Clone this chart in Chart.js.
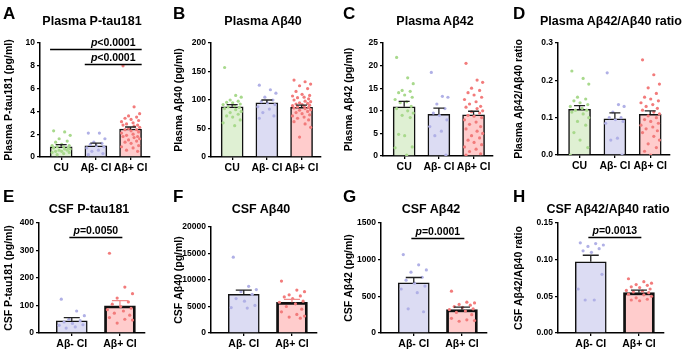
<!DOCTYPE html>
<html>
<head>
<meta charset="utf-8">
<script src="https://cdn.jsdelivr.net/npm/chart.js@4.4.0/dist/chart.umd.min.js"></script>
<style>
  body { margin: 0; background: #fff; width: 685px; height: 353px; position: relative; overflow: hidden;
         font-family: "Liberation Sans", Arial, sans-serif; color: #000; }
  canvas { position: absolute; }
  .letter { position: absolute; font-weight: bold; font-size: 17px; line-height: 17px; }
  .title { position: absolute; font-weight: bold; font-size: 12.5px; line-height: 14px; white-space: nowrap; transform: translateX(-50%); }
</style>
</head>
<body>
<script>
// groupes
const groups3 = ['CU', 'Aβ- CI', 'Aβ+ CI'];
const groups2 = ['Aβ- CI', 'Aβ+ CI'];

// A - Plasma P-tau181
const ptauCU = [2.3, 2.2, 1.9, 1.6, 1.4, 1.3, 1.1, 1.0, 1.0, 0.9, 0.9, 0.8, 0.8, 0.7, 0.7, 0.6, 0.6, 0.5, 0.5, 0.4, 0.4, 0.3, 0.2];
const ptauNeg = [2.1, 2.1, 1.6, 1.3, 1.2, 1.1, 1.0, 0.9, 0.8, 0.6, 0.5, 0.3, 0.2];
const ptauPos = [8.0, 4.4, 3.8, 3.6, 3.5, 3.4, 3.3, 3.2, 3.1, 3.0, 2.9, 2.8, 2.8, 2.7, 2.6, 2.5, 2.4, 2.4, 2.3, 2.2, 2.1, 2.0, 1.9, 1.8, 1.8, 1.7, 1.6, 1.5, 1.4, 1.3, 1.2, 1.0, 0.9, 0.8, 0.6, 0.5];
const ptauMeans = [0.9, 0.99, 2.46];
const ptauSems = [0.18, 0.22, 0.17];
const ptauTicks = [0, 2, 4, 6, 8, 10];

// B - Plasma Abeta40
const ab40CU = [157, 108, 105, 100, 98, 96, 95, 93, 92, 90, 88, 87, 85, 83, 80, 78, 75, 72, 70, 65, 60, 55];
const ab40Neg = [126, 118, 112, 105, 100, 97, 95, 92, 88, 84, 78, 72, 68];
const ab40Pos = [135, 132, 128, 125, 120, 115, 110, 108, 107, 105, 104, 102, 100, 98, 97, 95, 94, 93, 92, 91, 90, 89, 88, 87, 86, 85, 83, 82, 80, 78, 76, 74, 72, 70, 68, 65, 62, 58, 52, 35];
const ab40Means = [88, 95, 87];
const ab40Sems = [4, 5, 4];
const ab40Ticks = [0, 50, 100, 150, 200];

// C - Plasma Abeta42
const ab42CU = [21.8, 17.3, 16.0, 14.5, 14.3, 14.0, 13.5, 13.0, 12.5, 12.0, 11.8, 11.0, 10.5, 10.0, 9.5, 9.0, 8.5, 4.8, 4.5, 2.0, 1.8, 0.2];
const ab42Neg = [18.5, 13.2, 13.0, 11.5, 10.5, 9.5, 9.0, 8.0, 6.5, 5.5, 4.5, 0.2];
const ab42Pos = [20.5, 16.8, 16.3, 15.0, 14.5, 14.0, 13.5, 13.0, 12.5, 12.0, 11.5, 11.0, 10.8, 10.5, 10.0, 9.8, 9.5, 9.0, 8.8, 8.5, 8.0, 7.5, 7.0, 6.5, 6.0, 5.5, 5.0, 4.5, 4.0, 3.5, 3.0, 2.5, 2.0, 1.5, 1.0, 0.5, 0.2];
const ab42Means = [10.9, 9.2, 9.1];
const ab42Sems = [1.2, 1.4, 0.8];
const ab42Ticks = [0, 5, 10, 15, 20, 25];

// D - Plasma ratio
const ratioCU = [0.225, 0.205, 0.19, 0.155, 0.15, 0.145, 0.14, 0.135, 0.13, 0.125, 0.12, 0.12, 0.115, 0.11, 0.10, 0.09, 0.08, 0.06, 0.04, 0.02, 0.0];
const ratioNeg = [0.22, 0.135, 0.13, 0.115, 0.10, 0.10, 0.095, 0.09, 0.085, 0.045, 0.04, 0.0];
const ratioPos = [0.255, 0.215, 0.19, 0.18, 0.165, 0.155, 0.15, 0.145, 0.14, 0.135, 0.13, 0.125, 0.12, 0.115, 0.11, 0.105, 0.10, 0.095, 0.09, 0.085, 0.08, 0.075, 0.07, 0.065, 0.06, 0.05, 0.04, 0.03, 0.02, 0.01, 0.0];
const ratioMeans = [0.122, 0.097, 0.109];
const ratioSems = [0.01, 0.016, 0.009];
const ratioTicks = [0, 0.1, 0.2, 0.3];

// E - CSF P-tau181
const csfPtauNeg = [123, 80, 63, 50, 45, 40, 35, 30, 28, 22, 18];
const csfPtauPos = [290, 167, 143, 127, 113, 105, 96, 90, 85, 80, 72, 65, 56, 50, 47, 36];
const csfPtauMeans = [44, 99];
const csfPtauSems = [12, 19];
const csfPtauTicks = [0, 100, 200, 300, 400];

// F - CSF Abeta40
const csf40Neg = [14300, 8800, 8200, 7800, 7300, 6500, 6000, 5200, 4800, 4700];
const csf40Pos = [9800, 8100, 7800, 7200, 7000, 6800, 6500, 6000, 5800, 5500, 5000, 4500, 4000, 3500, 3200, 3000, 2800];
const csf40Means = [7300, 5800];
const csf40Sems = [800, 550];
const csf40Ticks = [0, 5000, 10000, 15000, 20000];

// G - CSF Abeta42
const csf42Neg = [1070, 930, 860, 830, 760, 720, 680, 640, 600, 550, 330, 290];
const csf42Pos = [570, 420, 410, 390, 380, 360, 350, 330, 320, 300, 280, 250, 200, 180, 170, 160];
const csf42Means = [685, 318];
const csf42Sems = [72, 35];
const csf42Ticks = [0, 500, 1000, 1500];

// H - CSF ratio
const csfRatioNeg = [0.123, 0.122, 0.12, 0.118, 0.115, 0.112, 0.11, 0.08, 0.06, 0.045, 0.045];
const csfRatioPos = [0.074, 0.07, 0.068, 0.066, 0.065, 0.063, 0.062, 0.06, 0.058, 0.057, 0.056, 0.055, 0.053, 0.052, 0.05, 0.048, 0.046, 0.045, 0.044];
const csfRatioMeans = [0.097, 0.055];
const csfRatioSems = [0.009, 0.0035];
const csfRatioTicks = [0, 0.05, 0.1, 0.15];

// significance
const ptauBrackets = [
  { from: -0.32, to: 2.32, y: 9.45, label: '<0.0001', at: 1.5 },
  { from: 0.68, to: 2.32, y: 8.2, label: '<0.0001', at: 1.5 }
];
const csfPtauBrackets = [{ from: -0.05, to: 1.05, y: 350, label: '=0.0050', at: 0.5 }];
const csf42Brackets = [{ from: -0.05, to: 1.05, y: 1300, label: '=0.0001', at: 0.5 }];
const csfRatioBrackets = [{ from: -0.05, to: 1.05, y: 0.131, label: '=0.0013', at: 0.5 }];

const FONT = '"Liberation Sans", Arial, sans-serif';
Chart.defaults.font.family = FONT;
Chart.defaults.color = '#000';

const fills = { 'CU': '#dff0d3', 'Aβ- CI': '#dcdcf3', 'Aβ+ CI': '#ffcccc' };
const dots = { 'CU': '#a8d98c', 'Aβ- CI': '#b0b0e6', 'Aβ+ CI': '#f27b7b' };

// reglages par rangee : limites x, largeur des barres, demi-largeur du chapeau
const row1 = { min: -0.61, max: 2.56, bar: 22, cap: 5.5 };
const row2 = { min: -0.68, max: 1.52, bar: 31, cap: 8 };

const panels = [
  { letter: 'A', title: 'Plasma P-tau181', yTitle: 'Plasma P-tau181 (pg/ml)', cats: groups3,
    values: [ptauCU, ptauNeg, ptauPos], means: ptauMeans, sems: ptauSems, ticks: ptauTicks, dec: 0,
    brackets: ptauBrackets, err: ['#222', '#222', '#222'], bw: [1.5, 1.5, 1.5], row: row1,
    box: { ox: 0, oy: 0, w: 170, h: 176, ax: 40, top: 43, right: 150, bottom: 157 } },
  { letter: 'B', title: 'Plasma Aβ40', yTitle: 'Plasma Aβ40 (pg/ml)', cats: groups3,
    values: [ab40CU, ab40Neg, ab40Pos], means: ab40Means, sems: ab40Sems, ticks: ab40Ticks, dec: 0,
    brackets: [], err: ['#222', '#222', '#222'], bw: [1.5, 1.5, 1.5], row: row1,
    box: { ox: 170, oy: 0, w: 170, h: 176, ax: 41, top: 43, right: 151, bottom: 157 } },
  { letter: 'C', title: 'Plasma Aβ42', yTitle: 'Plasma Aβ42 (pg/ml)', cats: groups3,
    values: [ab42CU, ab42Neg, ab42Pos], means: ab42Means, sems: ab42Sems, ticks: ab42Ticks, dec: 0,
    brackets: [], err: ['#222', '#222', '#222'], bw: [1.5, 1.5, 1.5], row: row1,
    box: { ox: 340, oy: 0, w: 170, h: 176, ax: 43, top: 43, right: 153, bottom: 156 } },
  { letter: 'D', title: 'Plasma Aβ42/Aβ40 ratio', yTitle: 'Plasma Aβ42/Aβ40 ratio', cats: groups3,
    values: [ratioCU, ratioNeg, ratioPos], means: ratioMeans, sems: ratioSems, ticks: ratioTicks, dec: 1,
    brackets: [], err: ['#222', '#222', '#222'], bw: [1.5, 1.5, 1.5], row: row1,
    box: { ox: 510, oy: 0, w: 175, h: 176, ax: 48, top: 43, right: 160, bottom: 155 } },
  { letter: 'E', title: 'CSF P-tau181', yTitle: 'CSF P-tau181 (pg/ml)', cats: groups2,
    values: [csfPtauNeg, csfPtauPos], means: csfPtauMeans, sems: csfPtauSems, ticks: csfPtauTicks, dec: 0,
    brackets: csfPtauBrackets, err: ['#222', '#f08a8a'], bw: [1.5, 2.8], row: row2,
    box: { ox: 0, oy: 176, w: 170, h: 177, ax: 39, top: 47, right: 145, bottom: 157 } },
  { letter: 'F', title: 'CSF Aβ40', yTitle: 'CSF Aβ40 (pg/ml)', cats: groups2,
    values: [csf40Neg, csf40Pos], means: csf40Means, sems: csf40Sems, ticks: csf40Ticks, dec: 0,
    brackets: [], err: ['#222', '#f08a8a'], bw: [1.5, 2.8], row: row2,
    box: { ox: 170, oy: 176, w: 170, h: 177, ax: 41, top: 51, right: 147, bottom: 157 } },
  { letter: 'G', title: 'CSF Aβ42', yTitle: 'CSF Aβ42 (pg/ml)', cats: groups2,
    values: [csf42Neg, csf42Pos], means: csf42Means, sems: csf42Sems, ticks: csf42Ticks, dec: 0,
    brackets: csf42Brackets, err: ['#222', '#222'], bw: [1.5, 2.8], row: row2,
    box: { ox: 340, oy: 176, w: 170, h: 177, ax: 41, top: 47, right: 147, bottom: 157 } },
  { letter: 'H', title: 'CSF Aβ42/Aβ40 ratio', yTitle: 'CSF Aβ42/Aβ40 ratio', cats: groups2,
    values: [csfRatioNeg, csfRatioPos], means: csfRatioMeans, sems: csfRatioSems, ticks: csfRatioTicks, dec: 2,
    brackets: csfRatioBrackets, err: ['#222', '#222'], bw: [1.5, 2.8], row: row2,
    box: { ox: 510, oy: 176, w: 175, h: 177, ax: 48, top: 47, right: 154, bottom: 157 } }
];

// etalement horizontal des points sur la largeur de la barre (motif fixe)
const spreadPattern = [-0.75, 0.35, 0.9, -0.2, 0.6, -0.55, 0.05, 0.8, -0.9, 0.25, -0.4, 0.7];
function spread(n, half) {
  return Array.from({ length: n }, (_, j) => spreadPattern[j % spreadPattern.length] * half);
}

// barres d'erreur + crochets de significativite
function overlay(p) {
  return {
    id: 'overlay' + p.letter,
    afterDatasetsDraw(chart) {
      const { ctx, scales: { x, y } } = chart;
      ctx.save();
      ctx.lineWidth = 1.3;
      p.means.forEach((m, i) => {
        const cx = x.getPixelForValue(i);
        const yb = y.getPixelForValue(m);
        const yt = y.getPixelForValue(m + p.sems[i]);
        ctx.strokeStyle = p.err[i];
        ctx.beginPath();
        ctx.moveTo(cx, yb); ctx.lineTo(cx, yt);
        ctx.moveTo(cx - p.row.cap, yt); ctx.lineTo(cx + p.row.cap, yt);
        ctx.stroke();
      });
      ctx.strokeStyle = '#000';
      ctx.fillStyle = '#000';
      ctx.lineWidth = 1.5;
      p.brackets.forEach(b => {
        const x0 = x.getPixelForValue(b.from), x1 = x.getPixelForValue(b.to);
        const yy = Math.round(y.getPixelForValue(b.y)) + 0.5;
        ctx.beginPath(); ctx.moveTo(x0, yy); ctx.lineTo(x1, yy); ctx.stroke();
        const cx = x.getPixelForValue(b.at);
        ctx.font = 'italic bold 10.5px ' + FONT;
        const wp = ctx.measureText('p').width;
        ctx.font = 'bold 10.5px ' + FONT;
        const wr = ctx.measureText(b.label).width;
        const sx = cx - (wp + wr) / 2;
        ctx.textAlign = 'left';
        ctx.textBaseline = 'alphabetic';
        ctx.font = 'italic bold 10.5px ' + FONT;
        ctx.fillText('p', sx, yy - 4);
        ctx.font = 'bold 10.5px ' + FONT;
        ctx.fillText(b.label, sx + wp, yy - 4);
      });
      ctx.restore();
    }
  };
}

panels.forEach(p => {
  const b = p.box;
  const canvas = document.createElement('canvas');
  canvas.width = b.w; canvas.height = b.h;
  canvas.style.left = b.ox + 'px'; canvas.style.top = b.oy + 'px';
  canvas.style.width = b.w + 'px'; canvas.style.height = b.h + 'px';
  document.body.appendChild(canvas);

  const letter = document.createElement('div');
  letter.className = 'letter';
  letter.textContent = p.letter;
  letter.style.left = (b.ox + 3) + 'px';
  letter.style.top = (b.oy + (b.oy ? 12 : 5)) + 'px';
  document.body.appendChild(letter);

  const title = document.createElement('div');
  title.className = 'title';
  title.textContent = p.title;
  title.style.left = (b.ox + (b.ax + b.right) / 2 - 3) + 'px';
  title.style.top = (b.oy + (b.oy ? 26 : 14)) + 'px';
  document.body.appendChild(title);

  const yMax = p.ticks[p.ticks.length - 1];
  const scatterSets = p.values.map((vals, i) => {
    const offs = spread(vals.length, 0.29);
    return {
      type: 'scatter',
      data: vals.map((v, j) => ({ x: i + offs[j], y: v })),
      pointRadius: 1.6,
      pointBackgroundColor: dots[p.cats[i]],
      pointBorderWidth: 0,
      order: 0
    };
  });

  new Chart(canvas, {
    type: 'bar',
    data: {
      datasets: [
        ...scatterSets,
        {
          type: 'bar',
          data: p.means.map((m, i) => ({ x: i, y: m })),
          backgroundColor: p.cats.map(c => fills[c]),
          borderColor: '#111',
          borderWidth: p.bw,
          borderSkipped: 'bottom',
          barThickness: p.row.bar,
          order: 1
        }
      ]
    },
    options: {
      responsive: false,
      animation: false,
      events: [],
      layout: { padding: { left: 0, top: b.top, right: b.w - b.right, bottom: 0 } },
      plugins: { legend: { display: false }, tooltip: { enabled: false }, title: { display: false } },
      scales: {
        x: {
          type: 'linear',
          min: p.row.min,
          max: p.row.max,
          offset: false,
          afterBuildTicks: s => { s.ticks = p.cats.map((c, i) => ({ value: i })); },
          afterFit: s => { s.height = b.h - b.bottom; },
          grid: { display: true, drawOnChartArea: false, drawTicks: true, tickLength: 3, color: '#000', lineWidth: 1.3, offset: false },
          border: { display: true, color: '#000', width: 1.5 },
          ticks: { callback: v => p.cats[v], font: { size: 10.5, weight: 'bold' }, color: '#000', padding: 2,
                   maxRotation: 0, minRotation: 0, autoSkip: false }
        },
        y: {
          min: 0,
          max: yMax,
          afterBuildTicks: s => { s.ticks = p.ticks.map(v => ({ value: v })); },
          afterFit: s => { s.width = b.ax; },
          grid: { display: true, drawOnChartArea: false, drawTicks: true, tickLength: 3, color: '#000', lineWidth: 1.3 },
          border: { display: true, color: '#000', width: 1.5 },
          ticks: { callback: v => v.toFixed(p.dec), font: { size: 8.5, weight: 'bold' }, color: '#000', padding: 2 },
          title: { display: true, text: p.yTitle, font: { size: 10.5, weight: 'bold' }, color: '#000',
                   padding: { top: 3, bottom: 0 } }
        }
      }
    },
    plugins: [overlay(p)]
  });
});
</script>
</body>
</html>
